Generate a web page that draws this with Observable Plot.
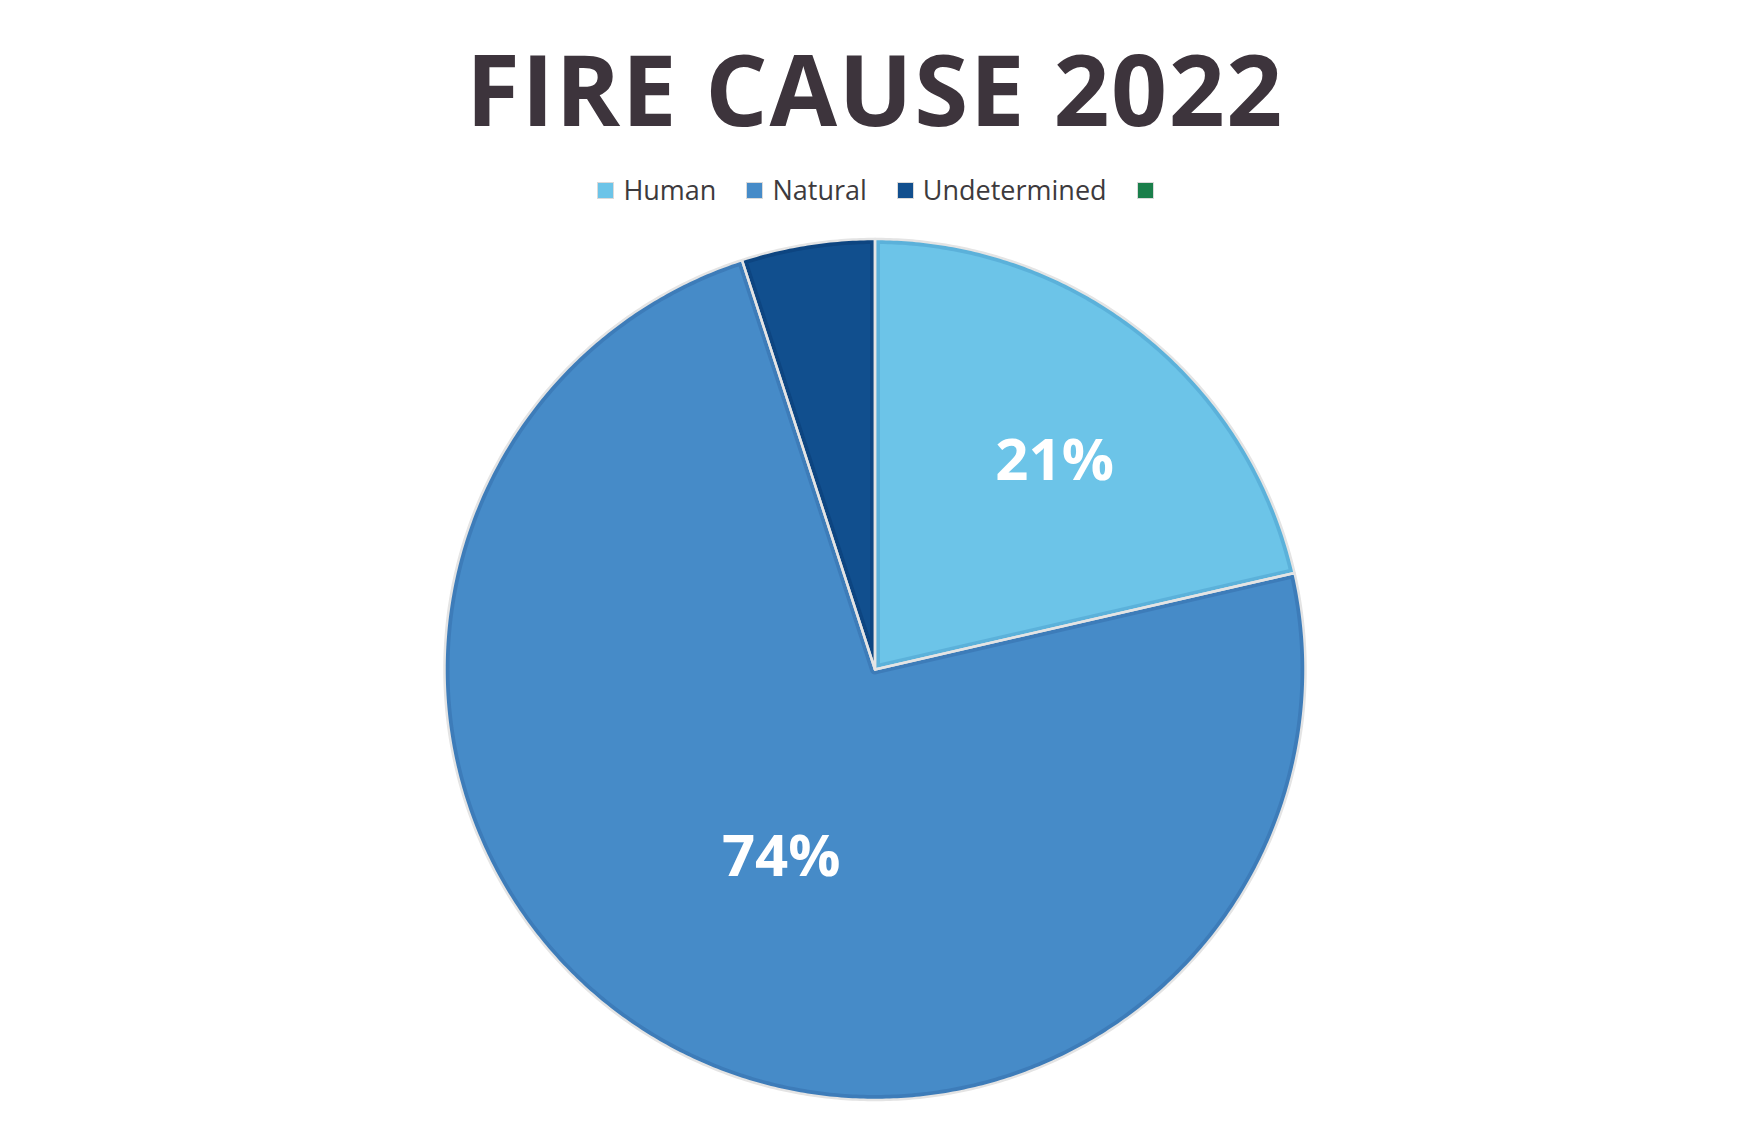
<!DOCTYPE html>
<html>
<head>
<meta charset="utf-8">
<script src="https://cdn.jsdelivr.net/npm/d3@7"></script>
<script src="https://cdn.jsdelivr.net/npm/@observablehq/plot@0.6"></script>
<style>
  body { margin: 0; background: #ffffff; }
  #wrap { width: 1750px; height: 1125px; position: relative; overflow: hidden; font-family: "Open Sans", sans-serif; }
  #title { position: absolute; left: 0; width: 1750px; top: 39px; text-align: center; font-weight: 700; font-size: 98px; line-height: 98px; letter-spacing: 1.6px; color: #3d343c; }
  #legend { position: absolute; left: 5px; width: 1750px; top: 174px; height: 32px; display: flex; justify-content: center; align-items: center; font-size: 27px; line-height: 32px; color: #3d3a3d; }
  .item { display: flex; align-items: center; margin: 0 15px; }
  .sw { width: 15px; height: 15px; border: 1.5px solid #dadada; margin-right: 9px; }
  #chart { position: absolute; left: 0; top: 225px; }
</style>
</head>
<body>
<div id="wrap">
  <div id="title">FIRE CAUSE 2022</div>
  <div id="legend"></div>
  <div id="chart"></div>
</div>
<script>
// ---- data ----
const categories = ["Human", "Natural", "Undetermined", ""];
const shares = [21.4, 73.6, 5.0, 0];
const fillColors = ["#6cc4e8", "#468bc8", "#114f8e", "#1a7f4b"];
const borderColors = ["#5bb1da", "#3d7cb9", "#0d4581", "#146b3e"];

// ---- layout (styling) ----
const W = 1750, H = 900, R = 430.5, cx = 874.5, cy = 444;
const borderPx = 5;
const labelRadius = { Human: 0.64, Natural: 0.48 };

// legend
const legend = d3.select("#legend");
categories.forEach((c, i) => {
  const it = legend.append("div").attr("class", "item");
  it.append("div").attr("class", "sw").style("background", fillColors[i]);
  it.append("span").text(c);
});

// slice angles from the shares
const total = d3.sum(shares);
let acc = 0;
const slices = categories.map((c, i) => {
  const a0 = acc / total * 360;
  acc += shares[i];
  const a1 = acc / total * 360;
  return { category: c, share: shares[i], a0, a1, i };
}).filter(s => s.share > 0);

const rad = Math.PI / 180;
const dir = (deg, r) => ({ x: r * Math.sin(deg * rad), y: r * Math.cos(deg * rad) });
function arcPts(a0, a1, r) {
  const n = Math.max(2, Math.ceil(Math.abs(a1 - a0) * 2));
  return d3.range(n + 1).map(k => dir(a0 + (a1 - a0) * k / n, r));
}
// outer wedge polygon
function wedge(s) {
  return [{ x: 0, y: 0 }, ...arcPts(s.a0, s.a1, 1), { x: 0, y: 0 }];
}
// wedge inset by the border width
function insetWedge(s) {
  const b = borderPx / R, r1 = 1 - b;
  const da = Math.asin(b / r1) / rad;
  const span = s.a1 - s.a0;
  const arc = arcPts(s.a0 + da, s.a1 - da, r1);
  const apex = span < 180
    ? [dir((s.a0 + s.a1) / 2, b / Math.sin(span / 2 * rad))]
    : arcPts(s.a1 - 90, s.a0 + 90, b);
  return [...apex.slice(-1), ...arc, ...apex];
}

const marks = [];
slices.forEach(s => {
  marks.push(Plot.line(wedge(s), { x: "x", y: "y", fill: borderColors[s.i], stroke: "none" }));
  marks.push(Plot.line(insetWedge(s), { x: "x", y: "y", fill: fillColors[s.i], stroke: "none" }));
});
slices.forEach(s => {
  marks.push(Plot.line(wedge(s), { x: "x", y: "y", stroke: "#e4e4e4", strokeWidth: 2.5, strokeLinejoin: "round" }));
});

const labels = slices.filter(s => s.share / total >= 0.1).map(s => {
  const r = labelRadius[s.category] ?? 0.55;
  const p = dir((s.a0 + s.a1) / 2, r);
  return { x: p.x, y: p.y, text: Math.round(s.share / total * 100) + "%" };
});
marks.push(Plot.text(labels, { x: "x", y: "y", text: "text", dx: 8, dy: 8, fill: "white", fontSize: 58, fontWeight: "bold", fontFamily: "Open Sans" }));

const svg = Plot.plot({
  width: W, height: H,
  marginTop: 0, marginRight: 0, marginBottom: 0, marginLeft: 0,
  x: { domain: [-cx / R, (W - cx) / R], axis: null },
  y: { domain: [-(H - cy) / R, cy / R], axis: null },
  style: { background: "transparent", overflow: "visible" },
  marks
});

document.getElementById("chart").appendChild(svg);
</script>
</body>
</html>
